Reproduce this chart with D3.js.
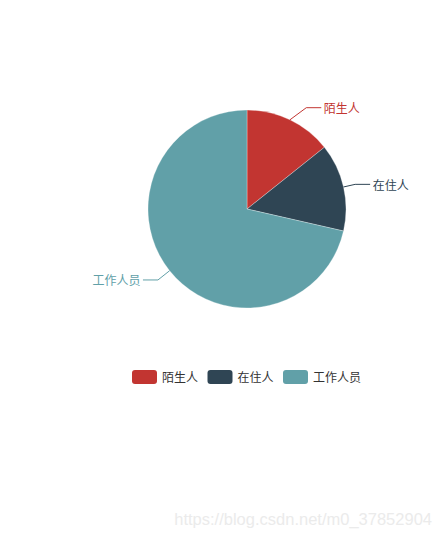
<!DOCTYPE html>
<html>
<head>
<meta charset="utf-8">
<script src="https://cdn.jsdelivr.net/npm/d3@7/dist/d3.min.js"></script>
<style>
  html, body { margin: 0; padding: 0; background: #fff; }
  svg { display: block; }
</style>
</head>
<body>
<svg id="chart" width="442" height="537"></svg>
<script>
const categories = ["陌生人", "在住人", "工作人员"];
const values = [1, 1, 5];
const colors = ["#c23531", "#2f4554", "#61a0a8"];

const width = 442;
const height = 537;
const cx = 247;
const cy = 209;
const radius = 99;
const font = "'Microsoft YaHei', 'Noto Sans CJK SC', sans-serif";

const svg = d3.select("#chart");

const data = categories.map((name, i) => ({ name, value: values[i], color: colors[i] }));

const pie = d3.pie().sort(null).value((d) => d.value);
const arcs = pie(data);

const arc = d3.arc().innerRadius(0).outerRadius(radius);

const g = svg.append("g").attr("transform", `translate(${cx},${cy})`);

g.selectAll("path.slice")
  .data(arcs)
  .enter()
  .append("path")
  .attr("class", "slice")
  .attr("d", arc)
  .attr("fill", (d) => d.data.color)
  .attr("stroke", "#fff")
  .attr("stroke-width", 0.3);

// label placement: y from the radial point, x aligned on an ellipse (echarts-ish)
const len1 = 14;
const len2 = 15;
const rA = radius + len1;
const rB = 121;
arcs.forEach((d) => {
  const mid = (d.startAngle + d.endAngle) / 2;
  const sx = Math.sin(mid), sy = -Math.cos(mid);
  const dir = sx >= 0 ? 1 : -1;
  const ty = sy * rA + 0.5;
  const ex = Math.sqrt((1 - (ty * ty) / (rB * rB)) * rA * rA);
  const tx = dir * (ex + len2);
  const p0 = [sx * radius, sy * radius];
  const p2 = [tx - dir * 2.5, ty];
  const p1 = [p2[0] - dir * len2, ty];
  g.append("polyline")
    .attr("points", [p0, p1, p2].map((p) => p.join(",")).join(" "))
    .attr("fill", "none")
    .attr("stroke", d.data.color)
    .attr("stroke-width", 1);
  g.append("text")
    .attr("x", tx)
    .attr("y", ty)
    .attr("dy", "0.45em")
    .attr("text-anchor", dir > 0 ? "start" : "end")
    .style("font-family", font)
    .style("font-size", "12px")
    .style("fill", d.data.color)
    .text(d.data.name);
});

// legend
const legendX = d3.scalePoint().domain(categories).range([132, 283]);
const legend = svg.append("g").attr("transform", "translate(0,370)");
const item = legend.selectAll("g.item")
  .data(data)
  .enter()
  .append("g")
  .attr("class", "item")
  .attr("transform", (d) => `translate(${legendX(d.name)},0)`);
item.append("rect")
  .attr("width", 25)
  .attr("height", 14)
  .attr("rx", 3)
  .attr("fill", (d) => d.color);
item.append("text")
  .attr("x", 30)
  .attr("y", 7)
  .attr("dy", "0.4em")
  .style("font-family", font)
  .style("font-size", "12px")
  .style("fill", "#333")
  .text((d) => d.name);

// watermark
svg.append("text")
  .attr("x", 432)
  .attr("y", 525)
  .attr("text-anchor", "end")
  .style("font-family", "Arial, 'Liberation Sans', sans-serif")
  .style("font-size", "16.5px")
  .style("fill", "#ebebeb")
  .text("https://blog.csdn.net/m0_37852904");
</script>
</body>
</html>
